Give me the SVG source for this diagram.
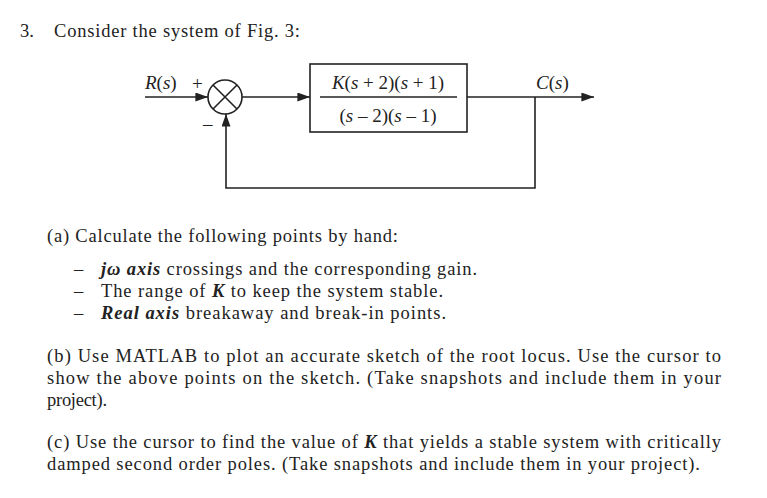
<svg xmlns="http://www.w3.org/2000/svg" width="767" height="498" viewBox="0 0 767 498">
<style>
text{font-family:"Liberation Serif","DejaVu Serif",serif;font-size:18.5px;fill:#222}
.d{font-size:19px}
.i{font-style:italic}
.b{font-weight:bold;font-style:italic}
.ln{stroke:#222;stroke-width:1.6;fill:none}
</style>
<defs><marker id="a" viewBox="0 0 14 10" refX="14" refY="5" markerWidth="14" markerHeight="9" markerUnits="userSpaceOnUse" orient="auto"><path d="M0,0L14,5L0,10z" fill="#222"/></marker></defs>
<rect width="767" height="498" fill="#fff"/>
<text x="20" y="37">3.</text>
<text x="54" y="37" textLength="246" lengthAdjust="spacing">Consider the system of Fig. 3:</text>
<g id="sum"><circle cx="225" cy="97" r="17" class="ln"/><path d="M213,85L237,109M237,85L213,109" class="ln"/>
<text x="192" y="90" class="d">+</text><text x="203" y="130" class="d">–</text></g>
<g id="plant"><rect x="310" y="64" width="157" height="68" class="ln" stroke-width="3"/>
<line x1="320" y1="97" x2="457" y2="97" class="ln" stroke-width="1.2"/>
<text x="388" y="89" text-anchor="middle" class="d"><tspan class="i">K</tspan>(<tspan class="i">s</tspan> + 2)(<tspan class="i">s</tspan> + 1)</text>
<text x="388" y="122" text-anchor="middle" class="d">(<tspan class="i">s</tspan> – 2)(<tspan class="i">s</tspan> – 1)</text></g>
<g id="labels"><text x="145" y="89" class="d"><tspan class="i">R</tspan>(<tspan class="i">s</tspan>)</text>
<text x="536" y="89" class="d"><tspan class="i">C</tspan>(<tspan class="i">s</tspan>)</text></g>
<g id="connectors">
<line x1="145" y1="97" x2="208" y2="97" class="ln" marker-end="url(#a)"/>
<line x1="242" y1="97" x2="310" y2="97" class="ln" marker-end="url(#a)"/>
<line x1="467" y1="97" x2="594" y2="97" class="ln" marker-end="url(#a)"/>
<polyline points="535,97 535,188 226,188 226,114" class="ln" marker-end="url(#a)"/>
</g>
<text x="47" y="242" textLength="351" lengthAdjust="spacing">(a) Calculate the following points by hand:</text>
<text x="74" y="275">–</text><text x="101" y="275" textLength="376" lengthAdjust="spacing"><tspan class="b">jω axis</tspan> crossings and the corresponding gain.</text>
<text x="74" y="297">–</text><text x="101" y="297" textLength="342" lengthAdjust="spacing">The range of <tspan class="b">K</tspan> to keep the system stable.</text>
<text x="74" y="319">–</text><text x="101" y="319" textLength="345" lengthAdjust="spacing"><tspan class="b">Real axis</tspan> breakaway and break-in points.</text>
<text x="47" y="362" textLength="674" lengthAdjust="spacing">(b) Use MATLAB to plot an accurate sketch of the root locus. Use the cursor to</text>
<text x="47" y="384" textLength="674" lengthAdjust="spacing">show the above points on the sketch. (Take snapshots and include them in your</text>
<text x="47" y="406" textLength="60" lengthAdjust="spacing">project).</text>
<text x="47" y="448" textLength="674" lengthAdjust="spacing">(c) Use the cursor to find the value of <tspan class="b">K</tspan> that yields a stable system with critically</text>
<text x="47" y="470" textLength="653" lengthAdjust="spacing">damped second order poles. (Take snapshots and include them in your project).</text>
</svg>
